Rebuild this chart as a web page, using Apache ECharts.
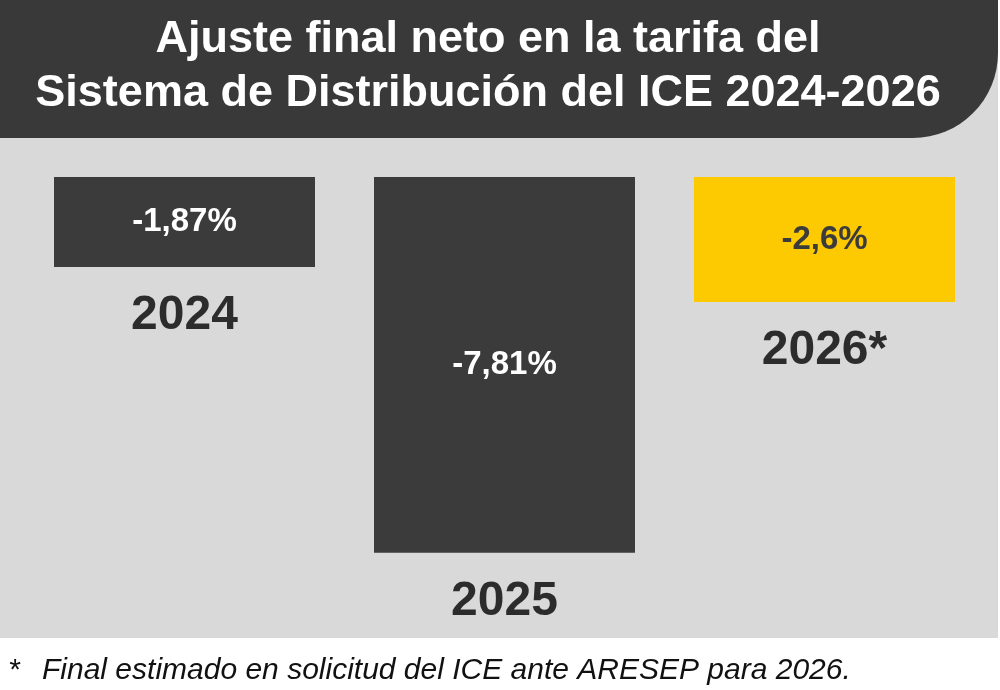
<!DOCTYPE html>
<html>
<head>
<meta charset="utf-8">
<script src="https://cdn.jsdelivr.net/npm/echarts@6/dist/echarts.min.js"></script>
<style>
  html, body { margin: 0; padding: 0; background: #fff; }
  #chart { width: 1000px; height: 690px; }
</style>
</head>
<body>
<div id="chart"></div>
<script>
const years = ['2024', '2025', '2026*']
const ajuste = [-1.87, -7.81, -2.6]
const etiquetas = ['-1,87%', '-7,81%', '-2,6%']
const titulo = 'Ajuste final neto en la tarifa del\nSistema de Distribución del ICE 2024-2026'
const nota = 'Final estimado en solicitud del ICE ante ARESEP para 2026.'

const dark = '#3b3b3b'
const yellow = '#fdc900'
const font = 'Liberation Sans'

const chart = echarts.init(document.getElementById('chart'))

const option = {
  animation: false,
  backgroundColor: '#fff',
  graphic: [
    { type: 'rect', z: -10, shape: { x: 0, y: 0, width: 998, height: 638 }, style: { fill: '#d9d9d9' } },
    { type: 'rect', z: -5, shape: { x: 0, y: 0, width: 998, height: 138, r: [0, 0, 85, 0] }, style: { fill: '#393939' } },
    {
      type: 'text', z: 10,
      style: {
        x: 488, y: 13,
        text: titulo, fill: '#fff',
        fontFamily: font, fontSize: 45, fontWeight: 'bold',
        align: 'center', verticalAlign: 'top', lineHeight: 54
      }
    },
    { type: 'text', style: { x: 8, y: 656, text: '*', fill: '#111', fontFamily: font, fontSize: 30, fontStyle: 'italic' } },
    { type: 'text', style: { x: 42, y: 656, text: nota, fill: '#111', fontFamily: font, fontSize: 30, fontStyle: 'italic' } }
  ],
  grid: { left: 24.5, right: 15.5, top: 177, height: 481 },
  xAxis: {
    type: 'category',
    data: years,
    show: false
  },
  yAxis: {
    type: 'value',
    min: -10,
    max: 0,
    show: false
  },
  series: [
    {
      type: 'bar',
      barWidth: 261,
      data: ajuste.map((v, i) => ({
        value: v,
        itemStyle: { color: i === 2 ? yellow : dark },
        label: { color: i === 2 ? dark : '#fff' }
      })),
      label: {
        show: true,
        position: 'inside',
        fontFamily: font,
        fontSize: 33,
        fontWeight: 'bold',
        formatter: p => etiquetas[p.dataIndex]
      }
    },
    {
      type: 'scatter',
      symbolSize: 0,
      data: ajuste,
      label: {
        show: true,
        position: 'bottom',
        distance: 25,
        fontFamily: font,
        fontSize: 48,
        fontWeight: 'bold',
        color: '#000',
        formatter: p => years[p.dataIndex]
      }
    }
  ]
}

chart.setOption(option)
</script>
</body>
</html>
